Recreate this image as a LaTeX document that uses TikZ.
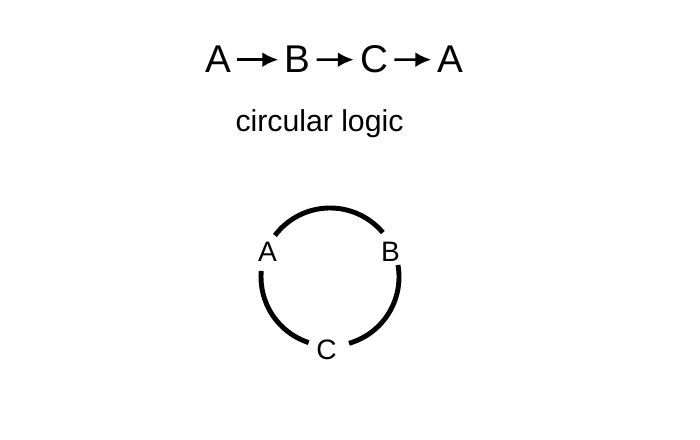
\documentclass[tikz,border=0pt]{standalone}
\usepackage{fontspec}
\setmainfont{Liberation Sans}
\usetikzlibrary{arrows.meta,calc,positioning}

\begin{document}
\begin{tikzpicture}[scale = 0.5]
		\tikzstyle{every node}=[inner sep=1.6pt]
		\tikzstyle{letter}=[font=\fontsize{11}{13}\selectfont, anchor=base]
		\tikzstyle{ringletter}=[font=\fontsize{8}{9}\selectfont, inner sep=0pt]
		\tikzstyle{implies}=[line width=0.75pt, -{Latex[length=4.5pt,width=4.2pt]}]
		\tikzstyle{ringarc}=[line width=1.4pt]
		\useasboundingbox (0,0) rectangle (14,8.8);
		% the chain
		\node [letter] (a1) at (4.36,7.34) {A};
		\node [letter] (b) at (5.95,7.34) {B};
		\node [letter] (c) at (7.48,7.34) {C};
		\node [letter] (a2) at (9.01,7.34) {A};
		\draw [implies] (a1) -- (b);
		\draw [implies] (b) -- (c);
		\draw [implies] (c) -- (a2);
		\node [font=\fontsize{8.6}{10}\selectfont, anchor=base] (caption) at (6.39,6.16) {circular logic};
		% the ring
		\coordinate (ring) at (6.6,3.26);
		\node [ringletter] (ra) at (5.35,3.76) {A};
		\node [ringletter] (rb) at (7.81,3.76) {B};
		\node [ringletter] (rc) at (6.53,1.8) {C};
		\draw [ringarc] ($(ring)+(143:1.38)$) arc (143:40:1.38);
		\draw [ringarc] ($(ring)+(175:1.38)$) arc (175:252:1.38);
		\draw [ringarc] ($(ring)+(10:1.38)$) arc (10:-74:1.38);
	\end{tikzpicture}
\end{document}
